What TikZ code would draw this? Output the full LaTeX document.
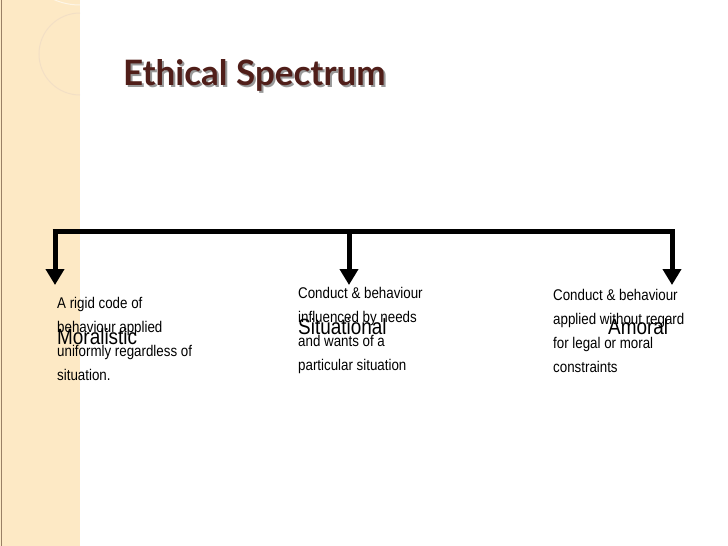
\documentclass[tikz,border=0pt]{standalone}
\usepackage{fontspec}
\usetikzlibrary{arrows.meta}
\setmainfont{Liberation Sans}[FakeStretch=0.86]
\newfontfamily\titlefont{Lato}
\begin{document}
\begin{tikzpicture}[x=1pt,y=-1pt,
  head/.style={anchor=base west,inner sep=0pt,font=\fontsize{22}{24}\selectfont},
  body/.style={anchor=base west,inner sep=0pt,align=left,font=\fontsize{15.5}{24}\selectfont},
  bar/.style={line width=5pt},
  arr/.style={line width=5pt,-{Triangle[length=16pt,width=18pt]}}]
\useasboundingbox (0,0) rectangle (728,546);
\fill[white] (0,0) rectangle (728,546);
\fill[yellow!20!orange!20!white] (0,0) rectangle (80,546);
\draw[gray!60!brown,line width=0.8pt] (1,0) -- (1,546);
\draw[white,opacity=0.6,line width=1pt] (80,5) arc[start angle=90,end angle=250,radius=65];
\draw[brown!30,opacity=0.6,line width=1pt] (80,95) arc[start angle=90,end angle=270,radius=41];
\node[anchor=base west,inner sep=0pt,text=black!40,font=\titlefont\bfseries\fontsize{35}{40}\selectfont] at (125,87) {Ethical Spectrum};
\node[anchor=base west,inner sep=0pt,text={rgb,255:red,80;green,30;blue,25},font=\titlefont\bfseries\fontsize{35}{40}\selectfont] (title) at (123,85) {Ethical Spectrum};
\coordinate (l) at (55,231);
\coordinate (m) at (349,231);
\coordinate (r) at (672,231);
\coordinate (lt) at (55,285);
\coordinate (mt) at (349,285);
\coordinate (rt) at (672,285);
\draw[bar] ([xshift=-2.5pt]l) -- ([xshift=2.5pt]r);
\draw[arr] (l) -- (lt);
\draw[arr] (m) -- (mt);
\draw[arr] (r) -- (rt);
\node[head] (mor) at (57,344) {Moralistic};
\node[head] (sit) at (298,334) {Situational};
\node[head] (amo) at (608,334) {Amoral};
\node[body] (morb) at (57,380) {A rigid code of\\behaviour applied\\uniformly regardless of\\situation.};
\node[body] (sitb) at (298,370) {Conduct \& behaviour\\influenced by needs\\and wants of a\\particular situation};
\node[body] (amob) at (553,372) {Conduct \& behaviour\\applied without regard\\for legal or moral\\constraints};
\end{tikzpicture}
\end{document}
